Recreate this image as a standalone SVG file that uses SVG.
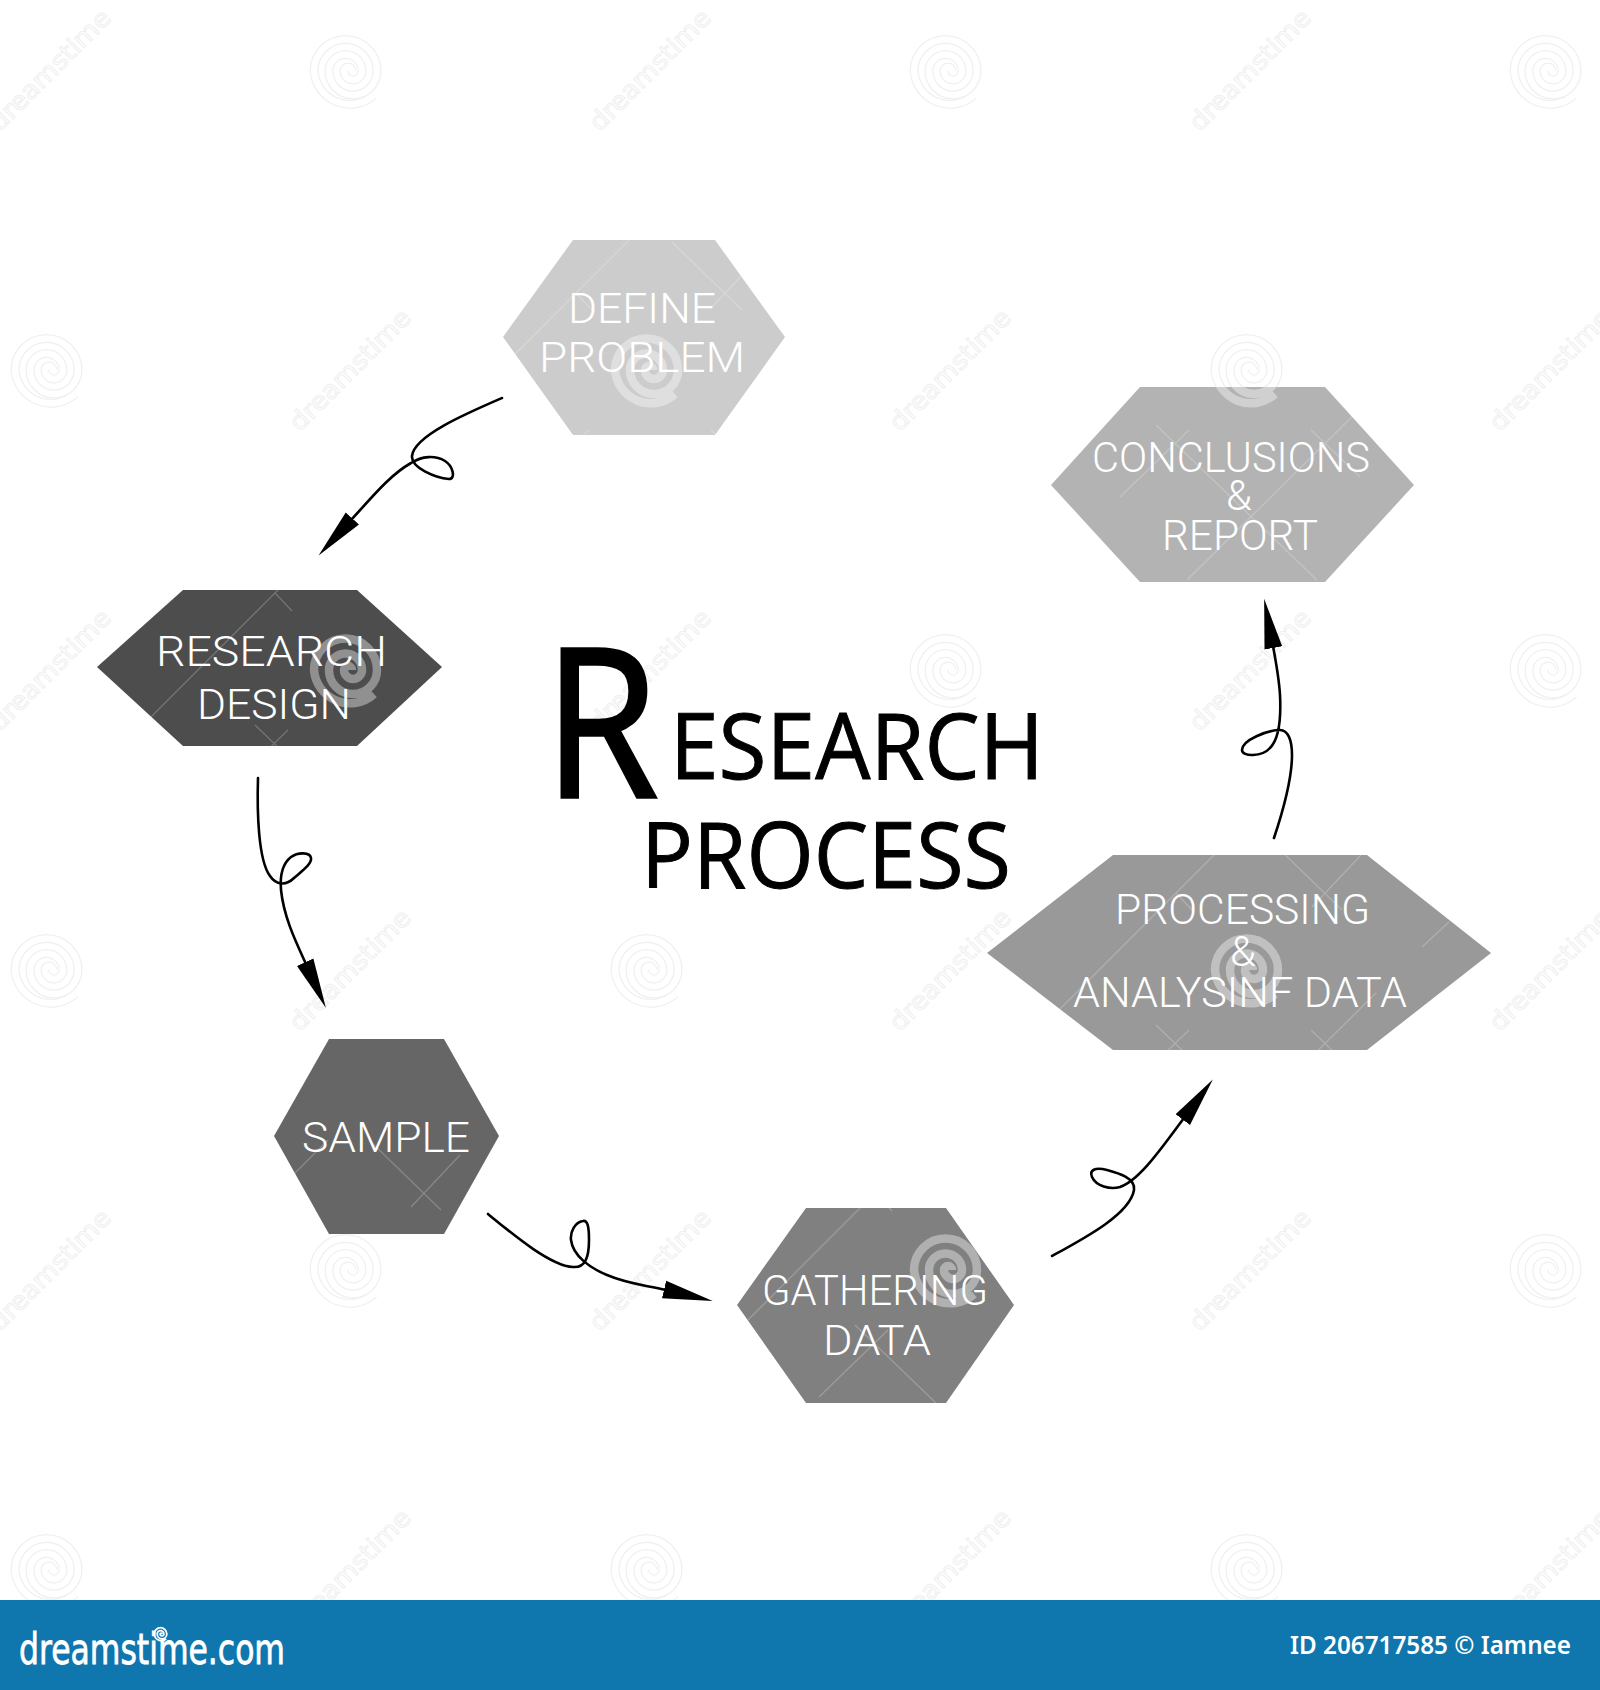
<svg xmlns="http://www.w3.org/2000/svg" xmlns:xlink="http://www.w3.org/1999/xlink" width="1600" height="1690" viewBox="0 0 1600 1690">
<style>
.wmt{font-family:"DejaVu Sans",sans-serif;font-size:25px;fill:#fff;stroke:#f0f0f0;stroke-width:1;text-anchor:middle}
.hexlabel{font-family:Roboto,"Liberation Sans",sans-serif;font-weight:300;font-size:42px;fill:#fff}
.title{font-family:"Open Sans","Liberation Sans",sans-serif;fill:#000;stroke:#000}
.conn{fill:none;stroke:#000;stroke-width:2.6;stroke-linecap:round;marker-end:url(#head)}
.bar{fill:#0f76ae}
.lat{stroke:#fff;stroke-opacity:.22;stroke-width:1.3;fill:none}
</style>
<defs>
<marker id="head" markerUnits="userSpaceOnUse" markerWidth="54" markerHeight="22" viewBox="0 0 54 22" refX="2" refY="11" orient="auto"><path d="M0,2 L50,11 L0,20 Z" fill="#000"/></marker>
<path id="sp" d="M4,0 A4,4 0 0 0 -4,0 A9,9 0 0 0 14,0 A16.5,16.5 0 0 0 -19,0 A24,24 0 0 0 29,0 A31.5,31.5 0 0 0 -34,0 A36,36 0 0 0 26,24"/>
<g id="faint"><use xlink:href="#sp" fill="none" stroke="#f0f0f0" stroke-width="9"/><use xlink:href="#sp" fill="none" stroke="#fff" stroke-width="6.5"/></g>
<g id="bright"><use xlink:href="#sp" fill="none" stroke="#fff" stroke-opacity=".38" stroke-width="8.5"/></g>
<g id="tile" class="lat">
<path d="M-20,-130L-200,50M23,-128L93,-60M112,-115L63,-63M200,-48L173,-23M-93,55L68,210M-60,60L-129,127M62,60L111,107M127,23L-62,210M-73,-77L-56,-59"/>
</g>
<clipPath id="nodesclip">
<polygon points="503,337 573,240 715,240 785,337 715,435 573,435"/>
<polygon points="1051,485 1140,387 1325,387 1414,485 1325,582 1140,582"/>
<polygon points="97,667 183,590 357,590 442,667 357,746 183,746"/>
<polygon points="987,953 1113,855 1367,855 1491,953 1367,1050 1113,1050"/>
<polygon points="274,1136 329,1039 444,1039 499,1136 444,1234 329,1234"/>
<polygon points="737,1305 806,1208 946,1208 1014,1305 946,1403 806,1403"/>
</clipPath>
</defs>
<rect width="1600" height="1690" fill="#fff"/>
<g id="watermark">
<use xlink:href="#faint" x="348" y="71"/><use xlink:href="#faint" x="948" y="71"/><use xlink:href="#faint" x="1548" y="71"/>
<use xlink:href="#faint" x="49" y="370"/><use xlink:href="#faint" x="649" y="370"/><use xlink:href="#faint" x="1249" y="370"/>
<use xlink:href="#faint" x="348" y="670"/><use xlink:href="#faint" x="948" y="670"/><use xlink:href="#faint" x="1548" y="670"/>
<use xlink:href="#faint" x="49" y="970"/><use xlink:href="#faint" x="649" y="970"/><use xlink:href="#faint" x="1249" y="970"/>
<use xlink:href="#faint" x="348" y="1270"/><use xlink:href="#faint" x="948" y="1270"/><use xlink:href="#faint" x="1548" y="1270"/>
<use xlink:href="#faint" x="49" y="1570"/><use xlink:href="#faint" x="649" y="1570"/><use xlink:href="#faint" x="1249" y="1570"/>
<text class="wmt" transform="translate(56 76) rotate(-45)" textLength="160" lengthAdjust="spacingAndGlyphs">dreamstime</text>
<text class="wmt" transform="translate(656 76) rotate(-45)" textLength="160" lengthAdjust="spacingAndGlyphs">dreamstime</text>
<text class="wmt" transform="translate(1256 76) rotate(-45)" textLength="160" lengthAdjust="spacingAndGlyphs">dreamstime</text>
<text class="wmt" transform="translate(356 376) rotate(-45)" textLength="160" lengthAdjust="spacingAndGlyphs">dreamstime</text>
<text class="wmt" transform="translate(956 376) rotate(-45)" textLength="160" lengthAdjust="spacingAndGlyphs">dreamstime</text>
<text class="wmt" transform="translate(1556 376) rotate(-45)" textLength="160" lengthAdjust="spacingAndGlyphs">dreamstime</text>
<text class="wmt" transform="translate(56 676) rotate(-45)" textLength="160" lengthAdjust="spacingAndGlyphs">dreamstime</text>
<text class="wmt" transform="translate(656 676) rotate(-45)" textLength="160" lengthAdjust="spacingAndGlyphs">dreamstime</text>
<text class="wmt" transform="translate(1256 676) rotate(-45)" textLength="160" lengthAdjust="spacingAndGlyphs">dreamstime</text>
<text class="wmt" transform="translate(356 976) rotate(-45)" textLength="160" lengthAdjust="spacingAndGlyphs">dreamstime</text>
<text class="wmt" transform="translate(956 976) rotate(-45)" textLength="160" lengthAdjust="spacingAndGlyphs">dreamstime</text>
<text class="wmt" transform="translate(1556 976) rotate(-45)" textLength="160" lengthAdjust="spacingAndGlyphs">dreamstime</text>
<text class="wmt" transform="translate(56 1276) rotate(-45)" textLength="160" lengthAdjust="spacingAndGlyphs">dreamstime</text>
<text class="wmt" transform="translate(656 1276) rotate(-45)" textLength="160" lengthAdjust="spacingAndGlyphs">dreamstime</text>
<text class="wmt" transform="translate(1256 1276) rotate(-45)" textLength="160" lengthAdjust="spacingAndGlyphs">dreamstime</text>
<text class="wmt" transform="translate(356 1576) rotate(-45)" textLength="160" lengthAdjust="spacingAndGlyphs">dreamstime</text>
<text class="wmt" transform="translate(956 1576) rotate(-45)" textLength="160" lengthAdjust="spacingAndGlyphs">dreamstime</text>
<text class="wmt" transform="translate(1556 1576) rotate(-45)" textLength="160" lengthAdjust="spacingAndGlyphs">dreamstime</text>
</g>
<g id="title">
<text class="title" transform="translate(544 797) scale(.89 1)" font-size="208" stroke-width="3.5">R</text>
<text class="title" x="670" y="779" font-size="92" stroke-width="1" textLength="374" lengthAdjust="spacingAndGlyphs">ESEARCH</text>
<text class="title" x="641" y="888" font-size="92" stroke-width="1" textLength="370" lengthAdjust="spacingAndGlyphs">PROCESS</text>
</g>
<g id="connectors">
<path class="conn" d="M502,398 C465,414 414,436 412,456 C411,468 436,478 449,479 C456,479 453,466 445,461 C435,455 422,456 411,463 C390,475 373,496 351,520"/>
<path class="conn" d="M258,778 C257,810 258,860 270,876 C276,885 286,886 294,878 C302,871 312,864 311,858 C310,852 298,852 291,857 C282,864 280,878 281,890 C284,918 296,942 306,964"/>
<path class="conn" d="M488,1214 C510,1232 550,1266 573,1267 C585,1268 589,1258 589,1240 C589,1228 588,1220 583,1221 C575,1222 570,1232 571,1240 C573,1256 590,1268 607,1275 C628,1284 645,1285 666,1290"/>
<path class="conn" d="M1052,1256 C1085,1238 1130,1214 1134,1190 C1136,1178 1118,1173 1107,1170 C1095,1167 1089,1170 1092,1177 C1096,1186 1110,1190 1120,1187 C1140,1180 1163,1146 1184,1118"/>
<path class="conn" d="M1274,838 C1285,805 1292,775 1292,755 C1292,740 1288,730 1280,730 C1268,730 1242,740 1242,750 C1242,757 1262,757 1270,748 C1280,738 1281,715 1280,695 C1279,678 1276,662 1273,646"/>
</g>
<g id="node-define">
<polygon points="503,337 573,240 715,240 785,337 715,435 573,435" fill="#ccc"/>
<text class="hexlabel" x="568" y="323" textLength="148" lengthAdjust="spacingAndGlyphs">DEFINE</text>
<text class="hexlabel" x="539" y="372" textLength="206" lengthAdjust="spacingAndGlyphs">PROBLEM</text>
</g>
<g id="node-conclusions">
<polygon points="1051,485 1140,387 1325,387 1414,485 1325,582 1140,582" fill="#b3b3b3"/>
<text class="hexlabel" x="1092" y="472" textLength="278" lengthAdjust="spacingAndGlyphs">CONCLUSIONS</text>
<text class="hexlabel" x="1239" y="510" text-anchor="middle">&amp;</text>
<text class="hexlabel" x="1162" y="550" textLength="156" lengthAdjust="spacingAndGlyphs">REPORT</text>
</g>
<g id="node-research">
<polygon points="97,667 183,590 357,590 442,667 357,746 183,746" fill="#4d4d4d"/>
<text class="hexlabel" x="156" y="666" textLength="231" lengthAdjust="spacingAndGlyphs">RESEARCH</text>
<text class="hexlabel" x="197" y="719" textLength="154" lengthAdjust="spacingAndGlyphs">DESIGN</text>
</g>
<g id="node-processing">
<polygon points="987,953 1113,855 1367,855 1491,953 1367,1050 1113,1050" fill="#999"/>
<text class="hexlabel" x="1115" y="924" textLength="255" lengthAdjust="spacingAndGlyphs">PROCESSING</text>
<text class="hexlabel" x="1243" y="966" text-anchor="middle">&amp;</text>
<text class="hexlabel" x="1073" y="1007" textLength="334" lengthAdjust="spacingAndGlyphs">ANALYSINF DATA</text>
</g>
<g id="node-sample">
<polygon points="274,1136 329,1039 444,1039 499,1136 444,1234 329,1234" fill="#666"/>
<text class="hexlabel" x="302" y="1152" textLength="168" lengthAdjust="spacingAndGlyphs">SAMPLE</text>
</g>
<g id="node-gathering">
<polygon points="737,1305 806,1208 946,1208 1014,1305 946,1403 806,1403" fill="#808080"/>
<text class="hexlabel" x="762" y="1305" textLength="226" lengthAdjust="spacingAndGlyphs">GATHERING</text>
<text class="hexlabel" x="823" y="1355" textLength="108" lengthAdjust="spacingAndGlyphs">DATA</text>
</g>
<g id="node-watermark" clip-path="url(#nodesclip)">
<use xlink:href="#bright" x="649" y="370"/><use xlink:href="#bright" x="1249" y="370"/><use xlink:href="#bright" x="348" y="670"/>
<use xlink:href="#bright" x="1249" y="970"/><use xlink:href="#bright" x="948" y="1270"/>
<use xlink:href="#tile" x="649" y="370"/><use xlink:href="#tile" x="1249" y="370"/><use xlink:href="#tile" x="348" y="670"/>
<use xlink:href="#tile" x="1249" y="970"/><use xlink:href="#tile" x="948" y="1270"/><use xlink:href="#tile" x="348" y="1270"/>
</g>
<g id="footer">
<rect class="bar" x="0" y="1600" width="1600" height="90"/>
<use xlink:href="#sp" transform="translate(161 1634) scale(.2)" fill="none" stroke="#fff" stroke-width="9"/>
<text x="19" y="1664" font-family="'DejaVu Sans',sans-serif" font-size="42" fill="#fff" stroke="#fff" stroke-width=".8" textLength="266" lengthAdjust="spacingAndGlyphs">dreamstime.com</text>
<text x="1290" y="1654" font-family="'Noto Sans',sans-serif" font-weight="600" font-size="25" fill="#fff" textLength="281" lengthAdjust="spacingAndGlyphs">ID 206717585 © Iamnee</text>
</g>
</svg>
